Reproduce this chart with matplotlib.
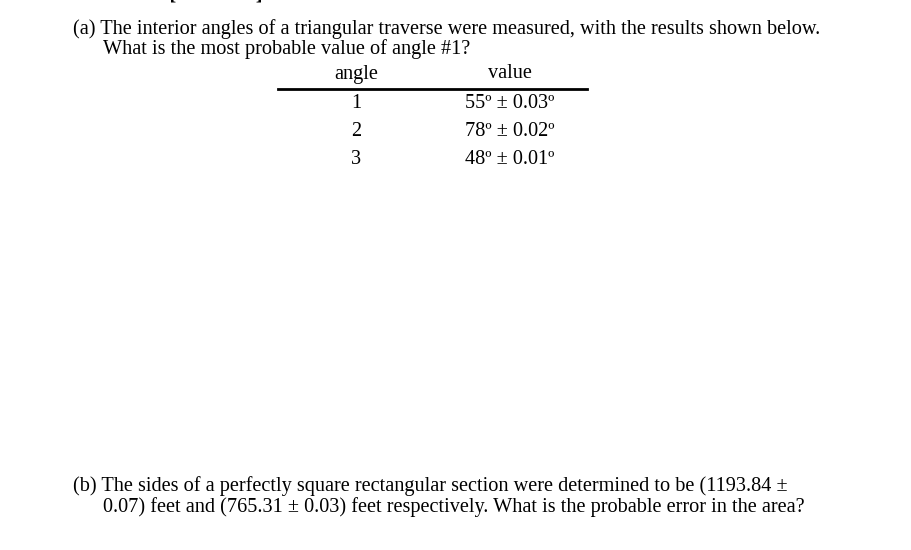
import matplotlib
matplotlib.use("Agg")
import matplotlib.pyplot as plt

angles = ["1", "2", "3"]
values = [55, 78, 48]
errors = ["0.03", "0.02", "0.01"]

W, H = 911, 550
fig = plt.figure(figsize=(W/100, H/100), dpi=100)
ax = fig.add_axes([0, 0, 1, 1])
ax.set_xlim(0, W); ax.set_ylim(H, 0); ax.axis("off")
F = dict(family="Liberation Serif", fontsize=14.6, color="black")

ax.text(70, -5, "Problem 5  [20 Points]", va="center", fontweight="bold", **F)
ax.text(73, 29, "(a) The interior angles of a triangular traverse were measured, with the results shown below.", va="center", **F)
ax.text(103, 49, "What is the most probable value of angle #1?", va="center", **F)
ax.text(356, 74, "angle", ha="center", va="center", **F)
ax.text(510, 74, "value", ha="center", va="center", **F)
ax.plot([278, 587], [89, 89], color="black", lw=2)
ys = [103, 131, 160]
for a, v, e, y in zip(angles, values, errors, ys):
    ax.text(356, y, a, ha="center", va="center", **F)
    ax.text(510, y, f"{v}\u00ba \u00b1 {e}\u00ba", ha="center", va="center", **F)
ax.text(73, 486, "(b) The sides of a perfectly square rectangular section were determined to be (1193.84 \u00b1", va="center", **F)
ax.text(103, 507, "0.07) feet and (765.31 \u00b1 0.03) feet respectively. What is the probable error in the area?", va="center", **F)
fig.savefig("out.png", dpi=100, facecolor="white")
